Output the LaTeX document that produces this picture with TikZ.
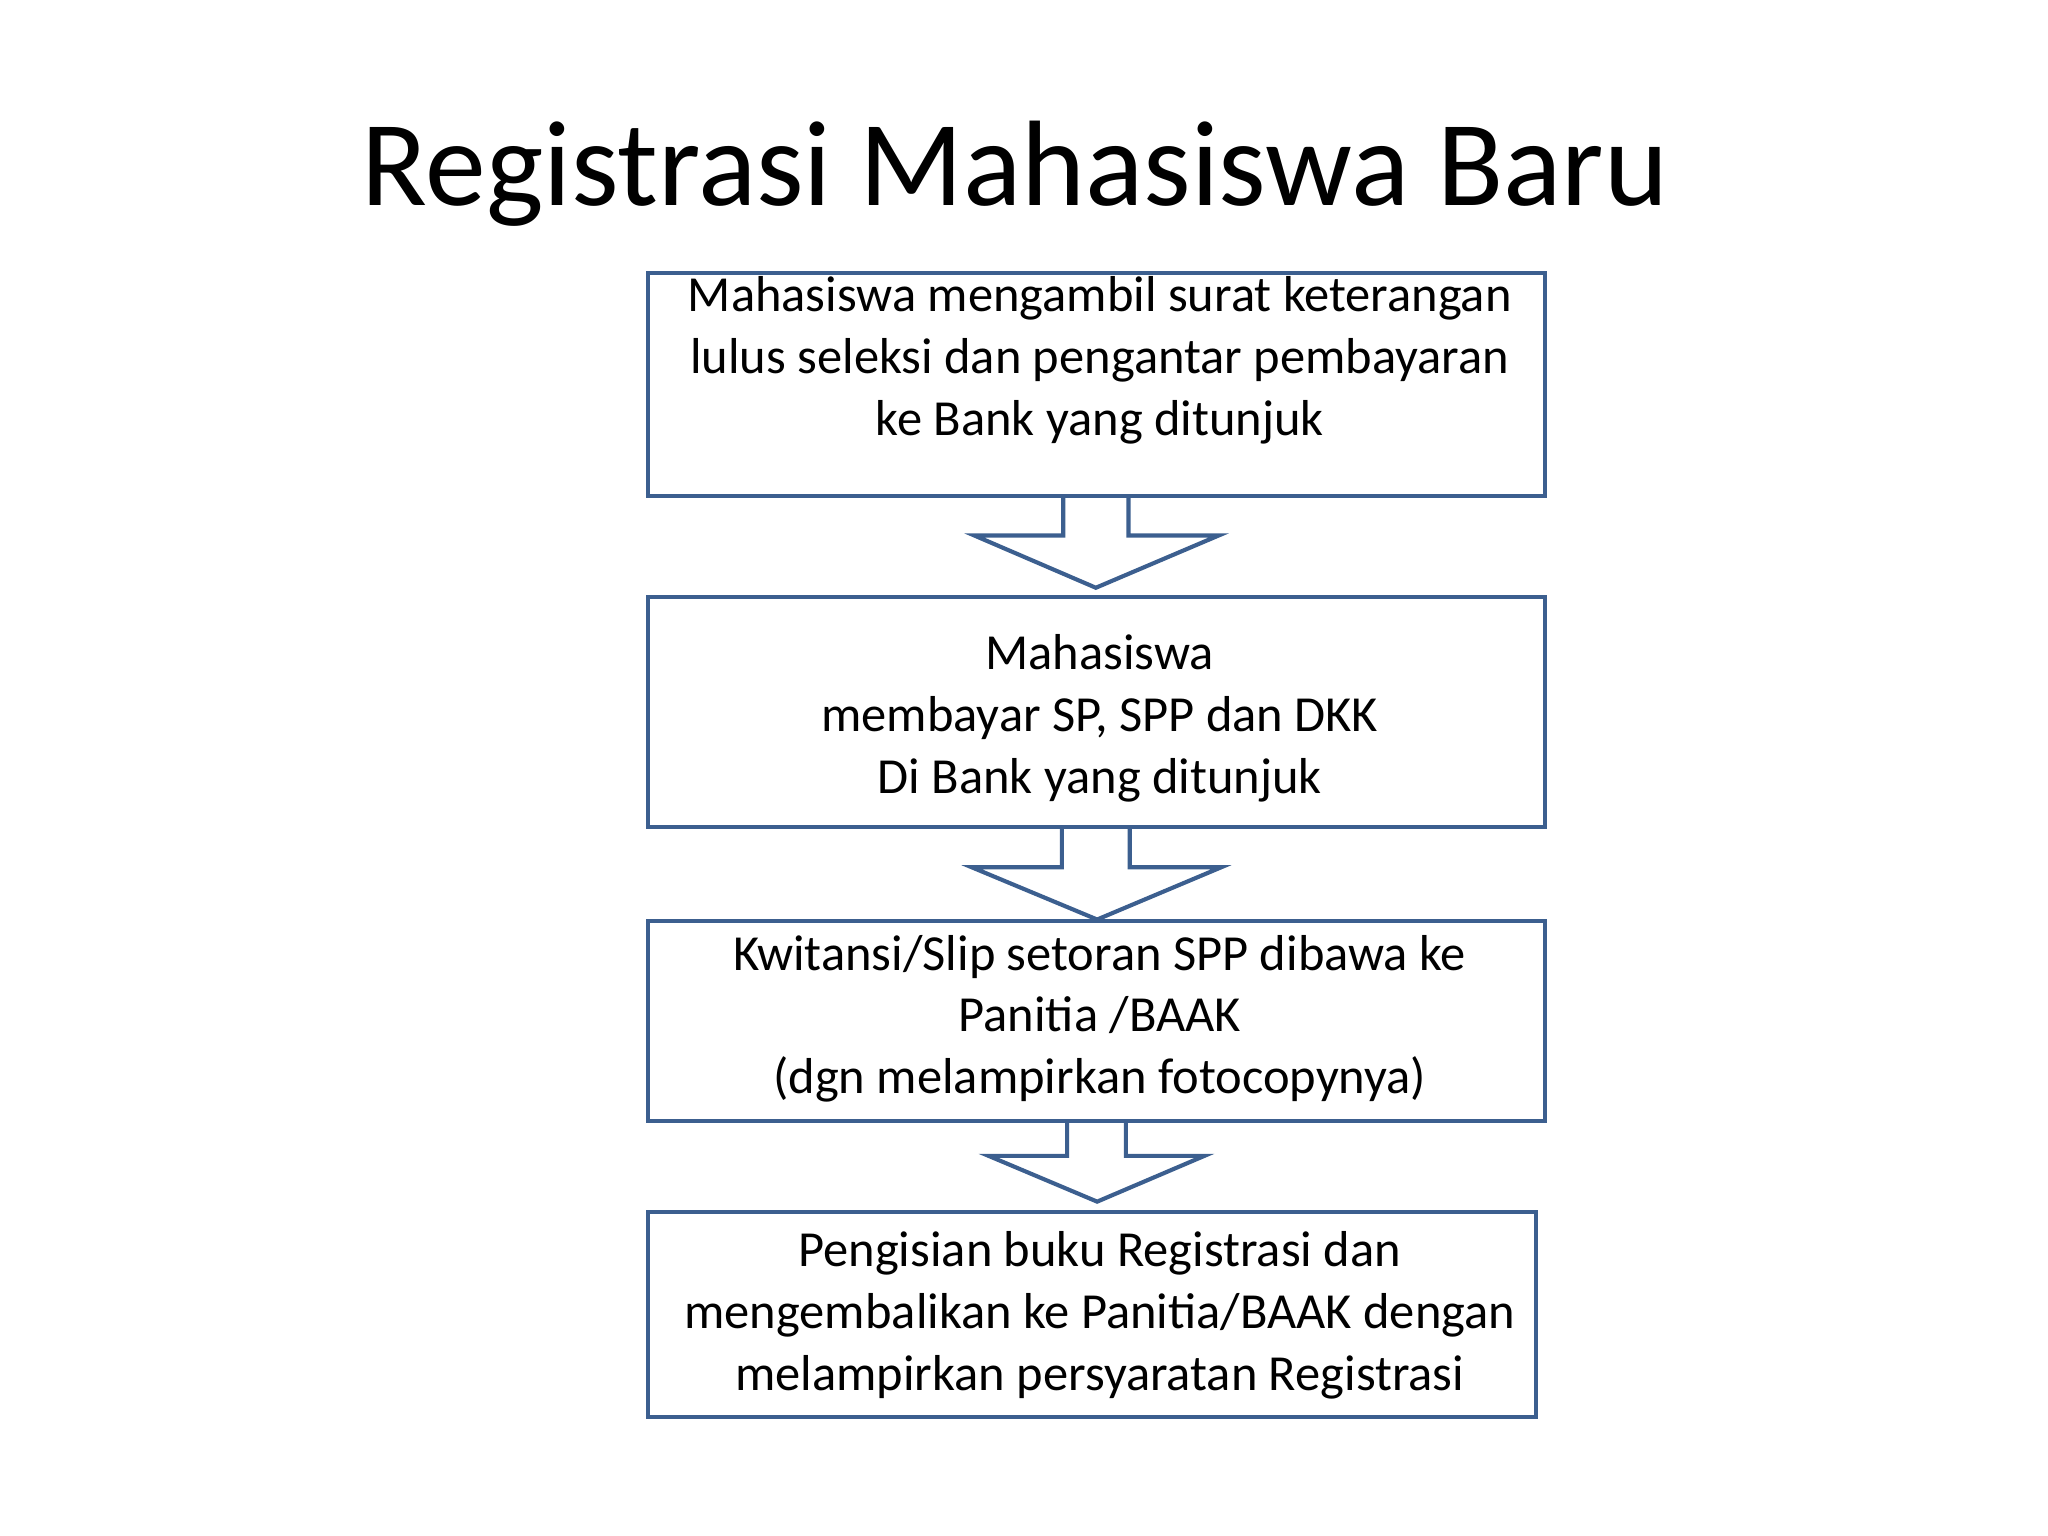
\documentclass[tikz,border=0pt]{standalone}
\usepackage{fontspec}
\setmainfont{Carlito}
\begin{document}
\begin{tikzpicture}[x=0.02cm,y=-0.02cm,
  stepbox/.style={draw=blue!40!black!70!cyan!60!black, draw=bcol, line width=1.8pt, inner sep=0pt},
  barrow/.style={draw=bcol, line width=1.8pt, line join=miter},
  txt/.style={align=center, font=\fontsize{22}{27}\selectfont}]
\definecolor{bcol}{HTML}{3C5F8F}
\useasboundingbox (0,0) rectangle (1568,1176);
\node (title) at (777,133) {\fontsize{53}{60}\selectfont Registrasi Mahasiswa Baru};
\draw[stepbox] (496,209) rectangle (1183,380);
\coordinate (b1) at (839.5,294.5);
\node[txt] (t1) at (842,276) {Mahasiswa mengambil surat keterangan\\lulus seleksi dan pengantar pembayaran\\ke Bank yang ditunjuk};
\draw[stepbox] (496,457) rectangle (1183,633);
\node[txt] (t2) at (842,550) {Mahasiswa\\membayar SP, SPP dan DKK\\Di Bank yang ditunjuk};
\draw[stepbox] (496,705) rectangle (1183,858);
\node[txt] (t3) at (842,780) {Kwitansi/Slip setoran SPP dibawa ke\\Panitia /BAAK\\(dgn melampirkan fotocopynya)};
\draw[stepbox] (496,928) rectangle (1176,1085);
\node[txt] (t4) at (842,1007) {Pengisian buku Registrasi dan\\mengembalikan ke Panitia/BAAK dengan\\melampirkan persyaratan Registrasi};
\draw[barrow] (814,380) -- (814,410) -- (746,410) -- (839,450) -- (933,410) -- (864,410) -- (864,380);
\draw[barrow] (813,633) -- (813,664) -- (744,664) -- (840,704) -- (935,664) -- (865,664) -- (865,633);
\draw[barrow] (817,858) -- (817,885) -- (757,885) -- (840,920) -- (922,885) -- (862,885) -- (862,858);
\end{tikzpicture}
\end{document}
